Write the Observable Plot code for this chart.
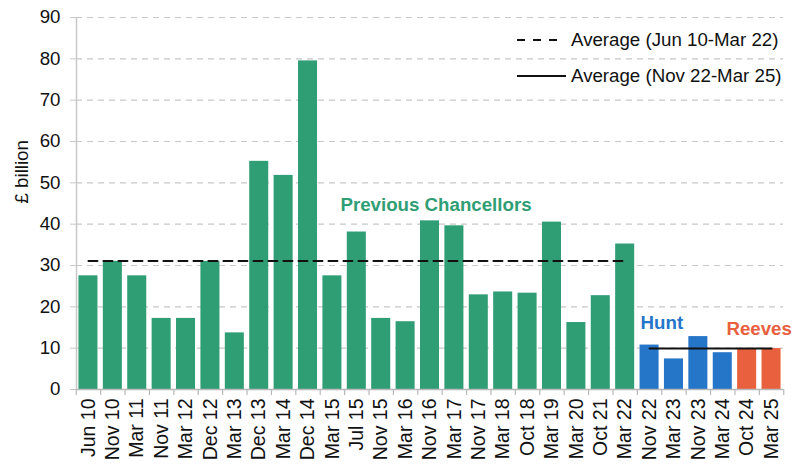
<!DOCTYPE html>
<html>
<head>
<meta charset="utf-8">
<script src="https://cdn.jsdelivr.net/npm/d3@7"></script>
<script src="https://cdn.jsdelivr.net/npm/@observablehq/plot@0.6"></script>
<style>
  html, body { margin: 0; padding: 0; background: #fff; }
  #wrap { position: relative; width: 800px; height: 465px; font-family: "Liberation Sans", Arial, sans-serif; }
  #wrap svg g[aria-label="x-axis tick label"] { font-size: 19.5px; }
  #wrap svg g[aria-label="y-axis tick label"] { font-size: 18.7px; }
  #legend { position: absolute; left: 517px; top: 22px; font-size: 18.7px; color: #111; }
  #legend .row { display: flex; align-items: center; height: 36px; }
  #legend svg { margin-right: 4px; }
</style>
</head>
<body>
<div id="wrap"><div id="legend"></div></div>
<script>
const periods = ["Jun 10","Nov 10","Mar 11","Nov 11","Mar 12","Dec 12","Mar 13","Dec 13","Mar 14","Dec 14","Mar 15","Jul 15","Nov 15","Mar 16","Nov 16","Mar 17","Nov 17","Mar 18","Oct 18","Mar 19","Mar 20","Oct 21","Mar 22","Nov 22","Mar 23","Nov 23","Mar 24","Oct 24","Mar 25"];
const values = [27.5,31.0,27.5,17.2,17.2,31.0,13.7,55.2,51.8,79.5,27.5,38.1,17.2,16.4,40.8,39.6,22.9,23.6,23.3,40.5,16.2,22.7,35.2,10.75,7.4,12.8,8.9,9.9,9.9];
const chancellors = ["Previous","Previous","Previous","Previous","Previous","Previous","Previous","Previous","Previous","Previous","Previous","Previous","Previous","Previous","Previous","Previous","Previous","Previous","Previous","Previous","Previous","Previous","Previous","Hunt","Hunt","Hunt","Hunt","Reeves","Reeves"];
const groupNames = ["Previous","Hunt","Reeves"];
const groupColors = ["#2f9e74","#2575c9","#e8603e"];
const yTicks = [0,10,20,30,40,50,60,70,80,90];

const data = periods.map((p, i) => ({period: p, value: values[i], who: chancellors[i]}));
const prev = data.filter(d => d.who === "Previous");
const recent = data.filter(d => d.who !== "Previous");
const avgPrev = d3.mean(prev, d => d.value);
const avgRecent = d3.mean(recent, d => d.value);
const avgPrevLine = [prev[0], prev[prev.length - 1]].map(d => ({period: d.period, value: avgPrev}));
const avgRecentLine = [recent[0], recent[recent.length - 1]].map(d => ({period: d.period, value: avgRecent}));

const W = 800, H = 465, ML = 76, MR = 17, MT = 17, MB = 76;
const pIn = 0.22, pOut = 0.1;
const step = (W - ML - MR) / (periods.length - pIn + 2 * pOut);

const plot = Plot.plot({
  width: W, height: H,
  marginLeft: ML, marginRight: MR, marginTop: MT, marginBottom: MB,
  style: {fontFamily: "Liberation Sans, Arial, sans-serif", fontSize: "18.7px", color: "#111", background: "#fff"},
  x: {domain: periods, paddingInner: pIn, paddingOuter: pOut, round: false, label: null},
  y: {domain: [0, 90], ticks: yTicks, label: null},
  color: {domain: groupNames, range: groupColors},
  marks: [
    Plot.gridY(yTicks.filter(t => t > 0), {stroke: "#c8c8c8", strokeOpacity: 1, strokeDasharray: "6,5", strokeWidth: 1.2}),
    Plot.axisY({ticks: yTicks, tickSize: 6, tickPadding: 10, stroke: "#c8c8c8", label: null}),
    Plot.axisX({tickRotate: -90, tickSize: 0, tickPadding: 9, label: null}),
    Plot.barY(data, {x: "period", y: "value", fill: "who"}),
    Plot.ruleY([0], {stroke: "#b8b8b8", strokeWidth: 1.5}),
    Plot.frame({anchor: "left", stroke: "#c8c8c8", strokeWidth: 1.5}),
    Plot.ruleX(periods, {x: d => d, y1: 0, y2: 0, dx: -step / 2, stroke: "#b8b8b8", strokeWidth: 1.2, insetBottom: -6}),
    Plot.ruleX([periods[periods.length - 1]], {x: d => d, y1: 0, y2: 0, dx: step / 2, stroke: "#b8b8b8", strokeWidth: 1.2, insetBottom: -6}),
    Plot.line(avgPrevLine, {x: "period", y: "value", stroke: "#111", strokeWidth: 2, strokeDasharray: "9,6"}),
    Plot.line(avgRecentLine, {x: "period", y: "value", stroke: "#111", strokeWidth: 2}),
    Plot.text([{period: "Nov 16", value: 44.7, label: "Previous Chancellors"}], {x: "period", y: "value", text: "label", dx: 6, fill: groupColors[0], fontWeight: "bold", fontSize: 18.7}),
    Plot.text([{period: "Nov 22", value: 16.1, label: "Hunt"}], {x: "period", y: "value", text: "label", textAnchor: "start", dx: -9, fill: groupColors[1], fontWeight: "bold", fontSize: 18.7}),
    Plot.text([{period: "Oct 24", value: 14.6, label: "Reeves"}], {x: "period", y: "value", text: "label", dx: 12, fill: groupColors[2], fontWeight: "bold", fontSize: 18.7}),
    Plot.text(["£ billion"], {frameAnchor: "left", text: d => d, rotate: -90, dx: -54, fontSize: 18.7, fill: "#111"})
  ]
});

const wrap = document.getElementById("wrap");
wrap.insertBefore(plot, wrap.firstChild);

const legendItems = [
  {label: "Average (Jun 10-Mar 22)", dash: "8,8", len: 41},
  {label: "Average (Nov 22-Mar 25)", dash: null, len: 49}
];
const legend = document.getElementById("legend");
legendItems.forEach(it => {
  const row = document.createElement("div");
  row.className = "row";
  row.innerHTML = `<svg width="50" height="10"><line x1="0" x2="${it.len}" y1="5" y2="5" stroke="#111" stroke-width="2" ${it.dash ? `stroke-dasharray="${it.dash}"` : ""}/></svg><span>${it.label}</span>`;
  legend.appendChild(row);
});
</script>
</body>
</html>
